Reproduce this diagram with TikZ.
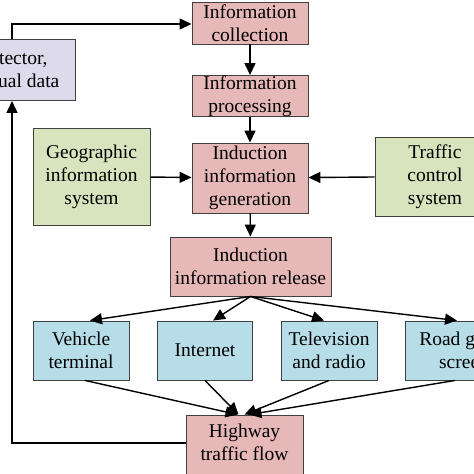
\documentclass[tikz,border=0pt]{standalone}
\usepackage{fontspec}
\setmainfont{Liberation Serif}
\usetikzlibrary{arrows.meta, positioning}
\definecolor{pinkbox}{HTML}{E6B8B7}
\definecolor{greenbox}{HTML}{D7E4BD}
\definecolor{bluebox}{HTML}{B7DEE8}
\definecolor{lilacbox}{HTML}{DCDAEB}
\tikzset{%
	every box/.style={
		draw=black!75,
		line width=0.9pt,
		inner sep=0pt,
		align=center,
		font=\rmfamily\fontsize{19.5}{23}\selectfont
	},
	pinknode/.style={every box, fill=pinkbox},
	greennode/.style={every box, fill=greenbox},
	bluenode/.style={every box, fill=bluebox},
	lilacnode/.style={every box, fill=lilacbox},
	arr/.style={line width=1.4pt, -{Triangle[length=12pt,width=11pt]}},
}
\begin{document}
\begin{tikzpicture}[x=1pt, y=-1pt]
			\useasboundingbox (0,0) rectangle (474,474);
			\clip (0,0) rectangle (474,474);
			\fill[white] (0,0) rectangle (474,474);
			
			\node[pinknode, minimum width=116pt, minimum height=42pt] (collect) at (250,23) {Information\\collection};
			\node[pinknode, minimum width=116pt, minimum height=41pt] (process) at (250,96) {Information\\processing};
			\node[pinknode, minimum width=116pt, minimum height=70pt] (generate) at (250,178) {Induction\\information\\generation};
			\node[greennode, minimum width=117pt, minimum height=97pt] (geo) at (91.5,176.5) {Geographic\\information\\system};
			\node[greennode, minimum width=120pt, minimum height=79pt] (control) at (435,176.5) {Traffic\\control\\system};
			\node[pinknode, minimum width=161pt, minimum height=59pt] (release) at (250.5,266.5) {Induction\\information release};
			\node[lilacnode, minimum width=126pt, minimum height=61pt] (detector) at (12,70) {Detector,\\manual data};
			
			\node[bluenode, minimum width=96pt, minimum height=59pt] (vehicle) at (81,350.5) {Vehicle\\terminal};
			\node[bluenode, minimum width=95pt, minimum height=59pt] (internet) at (205,350.5) {Internet};
			\node[bluenode, minimum width=96pt, minimum height=59pt] (tv) at (329,350.5) {Television\\and radio};
			\node[bluenode, minimum width=118pt, minimum height=59pt] (road) at (464,350.5) {Road guide\\screen};
			\node[pinknode, minimum width=117pt, minimum height=70pt] (highway) at (244.5,450) {Highway\\traffic flow\\[-8pt]\mbox{}};
			
			\coordinate (topcorner) at (12,24);
			\coordinate (loopcorner) at (12,443);
			
			\draw[arr] (collect) -- (process);
			\draw[arr] (process) -- (generate);
			\draw[arr] (geo) -- (generate);
			\draw[arr] (control) -- (generate);
			\draw[arr] (generate) -- (release);
			
			\draw[arr] (release.south) -- ([xshift=9pt]vehicle.north);
			\draw[arr] (release.south) -- ([xshift=8pt]internet.north);
			\draw[arr] (release.south) -- ([xshift=-5pt]tv.north);
			\draw[arr] (release.south) -- ([xshift=-7pt]road.north);
			
			\draw[arr] ([xshift=4pt]vehicle.south) -- ([xshift=-7pt]highway.north);
			\draw[arr] (internet.south) -- ([xshift=-6pt]highway.north);
			\draw[arr] (tv.south) -- ([xshift=0pt]highway.north);
			\draw[arr] ([xshift=-9pt]road.south) -- ([xshift=5pt]highway.north);
			
			\draw[arr] (highway.west |- loopcorner) -- (loopcorner) -- (loopcorner |- detector.south);
			\draw[arr] (detector.north -| topcorner) -- (topcorner) -- (topcorner -| collect.west);
			
		\end{tikzpicture}
\end{document}
